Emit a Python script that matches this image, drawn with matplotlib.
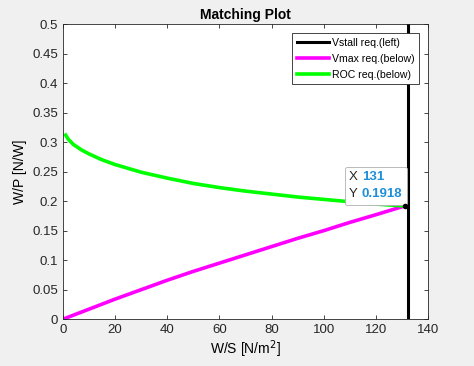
import numpy as np
import matplotlib.pyplot as plt
from matplotlib.ticker import FuncFormatter
from matplotlib.offsetbox import TextArea, HPacker, VPacker, AnnotationBbox

plt.rcParams['font.family'] = ['Liberation Sans', 'DejaVu Sans']

# Data
ws_roc = [1, 2, 4, 7, 10, 15, 20, 30, 40, 50, 60, 70, 80, 90, 100, 110, 120, 131]
wp_roc = [0.312, 0.305, 0.296, 0.287, 0.280, 0.270, 0.262, 0.249, 0.239, 0.230, 0.223,
          0.217, 0.212, 0.207, 0.203, 0.199, 0.195, 0.1918]
ws_vmax = [0, 10, 20, 30, 40, 50, 60, 70, 80, 90, 100, 110, 120, 131]
wp_vmax = [0, 0.017, 0.034, 0.050, 0.066, 0.081, 0.095, 0.109, 0.123, 0.137,
           0.150, 0.164, 0.177, 0.1918]
ws_stall = 132.3
tip_x, tip_y = 131, 0.1918

fig = plt.figure(figsize=(4.74, 3.66), dpi=100)
fig.patch.set_facecolor('#f0f0f0')
ax = fig.add_axes([0.133, 0.128, 0.770, 0.806])

ax.axvline(ws_stall, color='black', lw=2.2, label='Vstall req.(left)')
ax.plot(ws_vmax, wp_vmax, color='#ff00ff', lw=2.6, label='Vmax req.(below)')
ax.plot(ws_roc, wp_roc, color='#00ff00', lw=2.6, label='ROC req.(below)')
ax.plot(tip_x, tip_y, 'o', color='black', ms=3, zorder=5)

ax.set_xlim(0, 140)
ax.set_ylim(0, 0.5)
ax.set_xticks(np.arange(0, 141, 20))
ax.set_yticks(np.arange(0, 0.501, 0.05))
ax.yaxis.set_major_formatter(FuncFormatter(lambda v, p: f"{v:.2f}".rstrip('0').rstrip('.')))
ax.tick_params(direction='in', top=True, right=True, labelsize=9.5, colors='#262626',
               length=3, width=0.6)
for s in ax.spines.values():
    s.set_color('#262626')
    s.set_linewidth(0.6)

ax.set_title('Matching Plot', fontsize=10, fontweight='bold', pad=4)
ax.set_xlabel('W/S [N/m$^2$]', fontsize=10, labelpad=2)
ax.set_ylabel('W/P [N/W]', fontsize=10, labelpad=4)

leg = ax.legend(loc='upper right', bbox_to_anchor=(0.975, 0.969), borderaxespad=0,
                fontsize=7.6, handlelength=3.0, handletextpad=0.25, borderpad=0.45,
                labelspacing=0.55, fancybox=False, edgecolor='#262626', framealpha=1)
leg.get_frame().set_linewidth(0.6)

# Data tip
blue = '#1e8fd8'
fs = 9.5
row1 = HPacker(children=[TextArea('X', textprops=dict(color='#262626', fontsize=fs)),
                         TextArea(f'{tip_x}', textprops=dict(color=blue, fontsize=fs, fontweight='bold'))],
               sep=3, pad=0)
row2 = HPacker(children=[TextArea('Y', textprops=dict(color='#262626', fontsize=fs)),
                         TextArea(f'{tip_y}', textprops=dict(color=blue, fontsize=fs, fontweight='bold'))],
               sep=3, pad=0)
box = VPacker(children=[row1, row2], sep=4, pad=0)
ab = AnnotationBbox(box, (tip_x, tip_y), xybox=(-1.5, 4), xycoords='data',
                    boxcoords='offset points', box_alignment=(1, 0), pad=0.5,
                    bboxprops=dict(boxstyle='round,pad=0.3,rounding_size=0.15',
                                   fc='white', ec='#b0b0b0', lw=0.6))
ax.add_artist(ab)

fig.savefig('out.png', dpi=100, facecolor=fig.get_facecolor())
